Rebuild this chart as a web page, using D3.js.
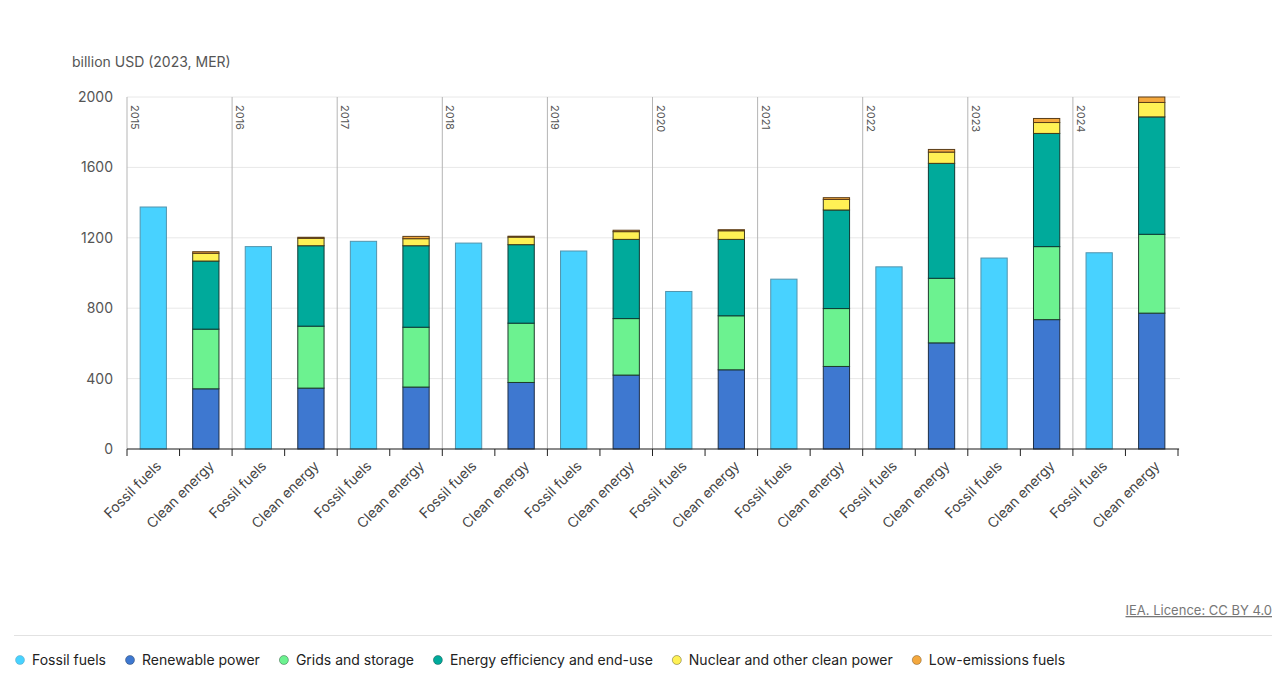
<!DOCTYPE html>
<html>
<head>
<meta charset="utf-8">
<script src="https://cdn.jsdelivr.net/npm/d3@7"></script>
<style>
  body { margin: 0; background: #fff; font-family: Inter, "Noto Sans", sans-serif; }
  svg text { font-family: Inter, "Noto Sans", sans-serif; }
</style>
</head>
<body>
<script>
// chart data, billion USD (2023, MER)
var years = ["2015", "2016", "2017", "2018", "2019", "2020", "2021", "2022", "2023", "2024"];
var types = ["Fossil fuels", "Clean energy"];
var fossilFuels     = [1375, 1150, 1180, 1170, 1125, 895, 965, 1035, 1085, 1115];
var renewablePower  = [342, 346, 352, 378, 420, 450, 469, 603, 735, 772];
var gridsStorage    = [339, 352, 340, 337, 321, 307, 329, 367, 415, 448];
var efficiency      = [387, 457, 463, 446, 450, 434, 560, 653, 643, 667];
var nuclearOther    = [44, 42, 40, 43, 44, 49, 60, 64, 62, 82];
var lowEmissions    = [9, 6, 13, 5, 8, 6, 10, 15, 23, 31];
var yTicks = [0, 400, 800, 1200, 1600, 2000];

var series = [
  {name: "Fossil fuels", values: fossilFuels, color: "#48d2ff", stroke: "#5294ad"},
  {name: "Renewable power", values: renewablePower, color: "#3e78d0", stroke: "#1d2f48"},
  {name: "Grids and storage", values: gridsStorage, color: "#6cf290", stroke: "#1d3b2a"},
  {name: "Energy efficiency and end-use", values: efficiency, color: "#00aa9b", stroke: "#0d3b36"},
  {name: "Nuclear and other clean power", values: nuclearOther, color: "#fff155", stroke: "#3e3a1a"},
  {name: "Low-emissions fuels", values: lowEmissions, color: "#f4a83d", stroke: "#5a3d18"}
];

var margin = {top: 97, right: 106, bottom: 236, left: 127};
var W = 1284, H = 685;
var width = W - margin.left - margin.right;
var height = H - margin.top - margin.bottom;

var svg = d3.select("body").append("svg")
  .attr("width", W).attr("height", H);

svg.append("text")
  .attr("x", 72).attr("y", 67)
  .attr("font-size", 14).attr("fill", "#555")
  .text("billion USD (2023, MER)");

var g = svg.append("g")
  .attr("transform", "translate(" + margin.left + "," + margin.top + ")");

// categories: one band per year and type
var cats = [];
years.forEach(function (y, i) {
  types.forEach(function (t) { cats.push({year: y, i: i, type: t, key: y + "|" + t}); });
});

var x = d3.scaleBand().domain(cats.map(function (d) { return d.key; }))
  .range([0, width]).paddingInner(0.5).paddingOuter(0.25);
var step = x.step();
var y = d3.scaleLinear().domain([0, 2000]).range([height, 0]);

// grid lines
g.append("g").selectAll("line").data(yTicks).join("line")
  .attr("x1", 0).attr("x2", width + 2)
  .attr("y1", function (d) { return y(d); }).attr("y2", function (d) { return y(d); })
  .attr("stroke", "#e8e8e8").attr("stroke-width", 1);

// y tick labels
g.append("g").selectAll("text").data(yTicks).join("text")
  .attr("x", -14).attr("y", function (d) { return y(d); })
  .attr("dy", "0.35em").attr("text-anchor", "end")
  .attr("font-size", 14).attr("fill", "#555")
  .text(function (d) { return d; });

// year separators and labels
var yearStart = years.map(function (yr, i) { return i * 2 * step; });
g.append("g").selectAll("line").data(years).join("line")
  .attr("x1", function (d, i) { return yearStart[i]; })
  .attr("x2", function (d, i) { return yearStart[i]; })
  .attr("y1", 0).attr("y2", height)
  .attr("stroke", "#b5b5b5").attr("stroke-width", 1);

g.append("g").selectAll("text").data(years).join("text")
  .attr("transform", function (d, i) { return "translate(" + (yearStart[i] + 4) + ",8) rotate(90)"; })
  .attr("font-size", 11).attr("fill", "#555")
  .text(function (d) { return d; });

// fossil bars
g.append("g").selectAll("rect").data(years).join("rect")
  .attr("x", function (d) { return x(d + "|Fossil fuels"); })
  .attr("width", x.bandwidth())
  .attr("y", function (d, i) { return y(fossilFuels[i]); })
  .attr("height", function (d, i) { return y(0) - y(fossilFuels[i]); })
  .attr("fill", series[0].color).attr("stroke", series[0].stroke).attr("stroke-width", 1);

// clean energy stacks
var stackRows = years.map(function (yr, i) {
  var r = {year: yr};
  series.slice(1).forEach(function (s) { r[s.name] = s.values[i]; });
  return r;
});
var stack = d3.stack().keys(series.slice(1).map(function (s) { return s.name; }));
var layers = stack(stackRows);

g.append("g").selectAll("g").data(layers).join("g")
  .attr("fill", function (d, i) { return series[i + 1].color; })
  .attr("stroke", function (d, i) { return series[i + 1].stroke; })
  .attr("stroke-width", 1)
  .selectAll("rect").data(function (d) { return d; }).join("rect")
  .attr("x", function (d) { return x(d.data.year + "|Clean energy"); })
  .attr("width", x.bandwidth())
  .attr("y", function (d) { return Math.max(y(d[1]), 0); })
  .attr("height", function (d) { return y(d[0]) - Math.max(y(d[1]), 0); });

// x axis
var xAxis = g.append("g").attr("transform", "translate(0," + height + ")");
xAxis.append("line").attr("x1", 0).attr("x2", width + 1).attr("stroke", "#222");
xAxis.selectAll("line.tick").data(d3.range(cats.length + 1)).join("line")
  .attr("class", "tick")
  .attr("x1", function (d) { return d * step; }).attr("x2", function (d) { return d * step; })
  .attr("y1", 0).attr("y2", 7).attr("stroke", "#222");
xAxis.selectAll("text").data(cats).join("text")
  .attr("transform", function (d) {
    return "translate(" + (x(d.key) + x.bandwidth() / 2 + 2) + ",11) rotate(-45)";
  })
  .attr("text-anchor", "end").attr("dy", "0.7em")
  .attr("font-size", 14).attr("fill", "#444")
  .text(function (d) { return d.type; });

// source
svg.append("text")
  .attr("x", 1272).attr("y", 615).attr("text-anchor", "end")
  .attr("font-size", 13).attr("fill", "#777")
  .attr("text-decoration", "underline")
  .text("IEA. Licence: CC BY 4.0");

svg.append("line")
  .attr("x1", 14).attr("x2", 1272).attr("y1", 635.5).attr("y2", 635.5)
  .attr("stroke", "#e2e2e2");

// legend
var legend = svg.append("g").attr("transform", "translate(20,660)");
var lx = 0;
series.forEach(function (s) {
  var item = legend.append("g").attr("transform", "translate(" + lx + ",0)");
  item.append("circle").attr("r", 4.5).attr("cy", 0)
    .attr("fill", s.color).attr("stroke", s.stroke).attr("stroke-opacity", 0.5).attr("stroke-width", 0.8);
  var t = item.append("text").attr("x", 12).attr("dy", "0.35em")
    .attr("font-size", 14).attr("fill", "#222").text(s.name);
  lx += 12 + t.node().getComputedTextLength() + 24;
});
</script>
</body>
</html>
